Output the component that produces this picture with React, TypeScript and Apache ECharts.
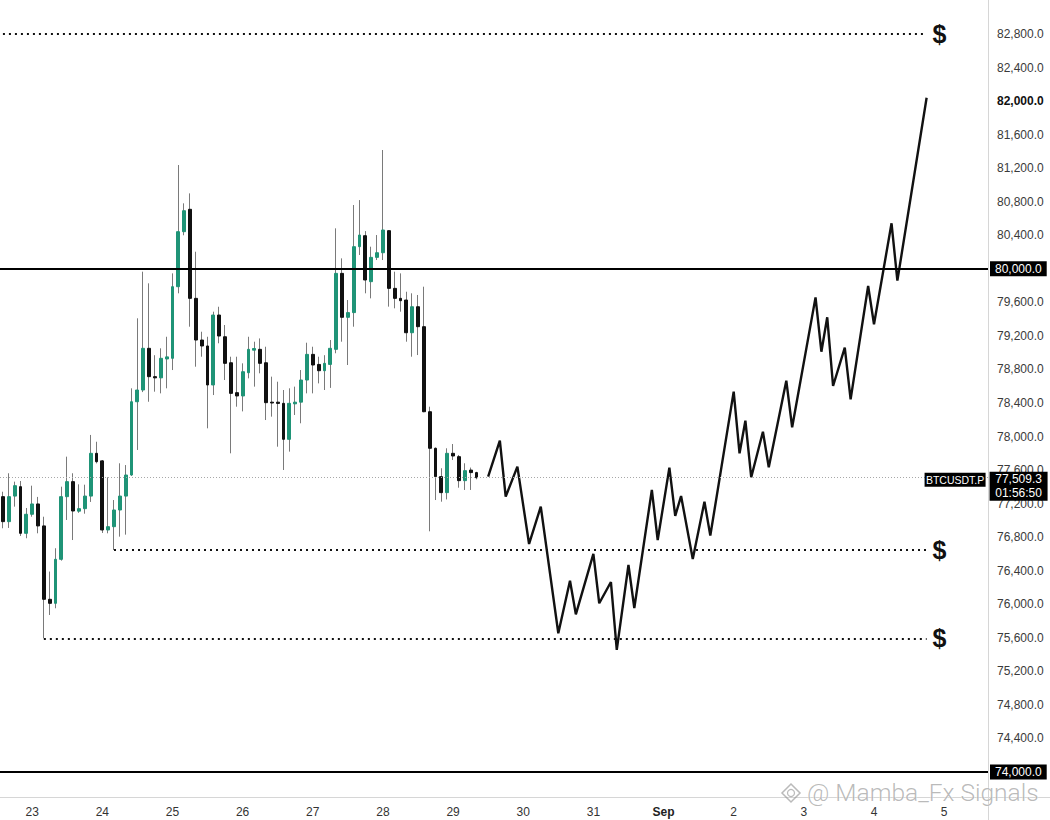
import React, { useEffect, useRef } from "react";
import * as echarts from "echarts";

// ---- time slots (2-hour candles) ----
const START_UTC = Date.UTC(2025, 7, 22, 14); // Aug 22 14:00
const SLOT_HOURS = 2;
const SLOT_COUNT = 169;

const categories: string[] = [];
for (let i = 0; i < SLOT_COUNT; i++) {
  const d = new Date(START_UTC + i * SLOT_HOURS * 3600000);
  const mm = String(d.getUTCMonth() + 1).padStart(2, "0");
  const dd = String(d.getUTCDate()).padStart(2, "0");
  const hh = String(d.getUTCHours()).padStart(2, "0");
  categories.push(`${mm}-${dd} ${hh}:00`);
}

// ---- BTCUSDT.P 2h candles (from Aug 22 14:00) ----
const candleOpen = [
  77283, 76985, 77290, 77402, 76846, 77073, 77196, 76934, 76059, 76011,
  76536, 77283, 77462, 77110, 77140, 77290, 77800, 77710, 76886, 76925,
  77124, 77290, 77541, 78415, 78555, 79052, 78714, 78700, 78925, 78933,
  79787, 80443, 80710, 79648, 79151, 79080, 78615, 79449, 79190, 78880,
  78523, 78484, 78761, 79030, 79040, 78880, 78410, 78410, 78396, 77967,
  78390, 78410, 78674, 78980, 78860, 78785, 78860, 79040, 79946, 79422,
  79478, 80264, 80395, 79847, 80137, 80192, 80455, 79767, 79648, 79628,
  79238, 79548, 79310, 78296, 77860, 77522, 77331, 77800, 77760, 77474,
  77600, 77570,
];
const candleClose = [
  76985, 77283, 77414, 76846, 77073, 77196, 76934, 76059, 76011, 76536,
  77283, 77462, 77112, 77140, 77290, 77800, 77700, 76886, 76925, 77124,
  77290, 77541, 78415, 78555, 79052, 78714, 78700, 78933, 78950, 79787,
  80443, 80693, 79648, 79151, 79080, 78615, 79449, 79199, 78873, 78515,
  78484, 78773, 79040, 79050, 78873, 78404, 78400, 78395, 77967, 78396,
  78410, 78674, 78980, 78853, 78785, 78873, 79052, 79946, 79422, 79478,
  80264, 80403, 79867, 80137, 80192, 80463, 79767, 79648, 79620, 79238,
  79548, 79310, 78296, 77860, 77522, 77331, 77800, 77768, 77474, 77593,
  77570, 77509.3,
];
const candleLow = [
  76906, 76910, 77164, 76814, 76787, 77044, 76846, 75594, 75872, 75952,
  76520, 77005, 76766, 77090, 77080, 77220, 77680, 76850, 76846, 76647,
  76806, 76830, 77530, 77840, 78530, 78415, 78535, 78515, 78575, 78793,
  79708, 80400, 79310, 78833, 78952, 78098, 78495, 79112, 78674, 77800,
  78356, 78300, 78694, 78595, 78754, 78197, 78237, 77879, 77601, 77820,
  78257, 78158, 78515, 78515, 78634, 78555, 78580, 78993, 79131, 78853,
  79310, 80165, 79708, 79648, 80105, 80105, 79549, 79529, 79489, 79131,
  78952, 78972, 78290, 76870, 77243, 77223, 77250, 77720, 77390, 77363,
  77363, 77490,
];
const candleHigh = [
  77342, 77562, 77462, 77470, 77148, 77414, 77280, 77044, 76390, 76668,
  77402, 77760, 77562, 77430, 77426, 78019, 77938, 77720, 77514, 77243,
  77681, 77660, 78575, 79410, 79966, 79827, 78970, 79052, 79190, 79946,
  81238, 80781, 80900, 80204, 79250, 79190, 79489, 79548, 79330, 78952,
  78952, 78873, 79190, 79131, 79170, 79071, 78714, 78654, 78555, 78575,
  78595, 78793, 79119, 79071, 78952, 78970, 79151, 80483, 80125, 79628,
  80761, 80820, 80450, 80264, 80403, 81417, 80460, 79966, 79946, 79727,
  79708, 79688, 79787, 78356, 77870, 77622, 77860, 77911, 77780, 77681,
  77630, 77580,
];

// ---- projected path ----
const projTimes = [
  "08-29 12:00", "08-29 16:00", "08-29 18:00", "08-29 22:00", "08-30 02:00",
  "08-30 06:00", "08-30 12:00", "08-30 16:00", "08-30 18:00", "08-31 00:00",
  "08-31 02:00", "08-31 06:00", "08-31 08:00", "08-31 12:00", "08-31 14:00",
  "08-31 20:00", "08-31 22:00", "09-01 02:00", "09-01 04:00", "09-01 06:00",
  "09-01 10:00", "09-01 14:00", "09-01 16:00", "09-02 00:00", "09-02 02:00",
  "09-02 04:00", "09-02 06:00", "09-02 10:00", "09-02 12:00", "09-02 18:00",
  "09-02 20:00", "09-03 04:00", "09-03 06:00", "09-03 08:00", "09-03 10:00",
  "09-03 14:00", "09-03 16:00", "09-03 22:00", "09-04 00:00", "09-04 06:00",
  "09-04 08:00", "09-04 18:00",
];
const projValues = [
  77522, 77950, 77283, 77641, 76719,
  77164, 75654, 76281, 75880, 76600,
  76012, 76265, 75455, 76468, 75955,
  77363, 76766, 77629, 77053, 77291,
  76540, 77223, 76818, 78535, 77800,
  78189, 77514, 78058, 77633, 78666,
  78110, 79660, 79012, 79422, 78603,
  79060, 78444, 79795, 79339, 80543,
  79859, 82040,
];

// ---- levels ----
const keyLevels = [80000, 74000];
const liquidityLevels = [82800, 76650, 75594];
const liquidityStarts = ["08-22 14:00", "08-24 04:00", "08-23 04:00"];
const liquidityEnd = "09-04 18:00";
const currentPrice = 77509.3;
const countdown = "01:56:50";
const symbolName = "BTCUSDT.P";

const Y_MIN = 73600;
const Y_MAX = 83200;
const Y_STEP = 400;

const GREEN = "#1f9477";
const BLACK = "#111111";
const WICK = "#7a7a7a";
const FONT = "Liberation Sans, Arial, sans-serif";

const fmt = (v: number) =>
  v.toLocaleString("en-US", { minimumFractionDigits: 1, maximumFractionDigits: 1 });

export default function App() {
  const ref = useRef<HTMLDivElement>(null);

  useEffect(() => {
    if (!ref.current) return;
    const chart = echarts.init(ref.current, undefined, { renderer: "svg" });

    const wickData = candleOpen.map((o, i) => [o, candleClose[i], candleLow[i], candleHigh[i]]);
    const bodyData = candleOpen.map((o, i) => {
      const c = candleClose[i];
      return [o, c, Math.min(o, c), Math.max(o, c)];
    });
    const projData = projTimes.map((t, i) => [t, projValues[i]]);
    const lastCat = categories[categories.length - 1];

    const boxLabel = (text: string) => ({
      show: true,
      position: "end",
      distance: 2,
      formatter: text,
      color: "#fff",
      backgroundColor: "#000",
      fontFamily: FONT,
      fontSize: 12,
      lineHeight: 13,
      padding: [1, 5, 1, 5],
    });

    const markLineData: any[] = [];
    keyLevels.forEach((lv) => {
      markLineData.push({
        yAxis: lv,
        lineStyle: { color: "#000", width: 2, type: "solid" },
        label: boxLabel(fmt(lv)),
      });
    });
    liquidityLevels.forEach((lv, i) => {
      markLineData.push([
        {
          coord: [liquidityStarts[i], lv],
          lineStyle: { color: "#111", width: 2, type: [2, 4] },
          label: {
            show: true,
            position: "end",
            distance: 6,
            formatter: "$",
            color: "#111",
            fontFamily: FONT,
            fontWeight: "bold",
            fontSize: 25,
          },
        },
        { coord: [liquidityEnd, lv] },
      ]);
    });
    markLineData.push({
      yAxis: currentPrice,
      lineStyle: { color: "#a8a8a8", width: 1, type: [1, 2] },
      label: { show: false },
    });

    const option: any = {
      animation: false,
      backgroundColor: "#ffffff",
      grid: { left: 0, right: 62, top: 0.5, bottom: 14.5, containLabel: false },
      xAxis: {
        type: "category",
        data: categories,
        boundaryGap: true,
        axisLine: { show: false },
        axisTick: { show: false },
        splitLine: { show: false },
        axisLabel: {
          margin: 0,
          color: "#333",
          fontFamily: FONT,
          fontSize: 12,
          interval: (_i: number, v: string) => v.slice(6) === "00:00",
          formatter: (v: string) => {
            const day = Number(v.slice(3, 5));
            if (day === 1) return "{m|Sep}";
            return String(day);
          },
          rich: { m: { fontWeight: "bold", color: "#222", fontSize: 12, fontFamily: FONT } },
        },
      },
      yAxis: {
        type: "value",
        position: "right",
        min: Y_MIN,
        max: Y_MAX,
        interval: Y_STEP,
        scale: true,
        axisLine: { show: false },
        axisTick: { show: false },
        splitLine: { show: false },
        axisLabel: {
          margin: 9,
          color: "#3a3a3a",
          fontFamily: FONT,
          fontSize: 12,
          showMinLabel: false,
          showMaxLabel: false,
          formatter: (v: number) => {
            if (v < 74000 || v > 82800 || keyLevels.includes(v)) return "";
            return v === 82000 ? `{b|${fmt(v)}}` : fmt(v);
          },
          rich: { b: { fontWeight: "bold", color: "#111", fontSize: 12, fontFamily: FONT } },
        },
      },
      series: [
        {
          type: "candlestick",
          name: "wick",
          data: wickData,
          barWidth: 0,
          silent: true,
          itemStyle: {
            color: WICK,
            color0: WICK,
            borderColor: WICK,
            borderColor0: WICK,
            borderColorDoji: WICK,
            borderWidth: 1,
          },
          z: 2,
        },
        {
          type: "candlestick",
          name: "body",
          data: bodyData,
          barWidth: 3.4,
          silent: true,
          itemStyle: {
            color: GREEN,
            color0: BLACK,
            borderColor: GREEN,
            borderColor0: BLACK,
            borderColorDoji: BLACK,
            borderWidth: 1,
          },
          z: 3,
        },
        {
          type: "line",
          name: "projection",
          data: projData,
          symbol: "none",
          lineStyle: { color: "#111", width: 2.4 },
          z: 4,
          silent: true,
          markLine: {
            silent: true,
            symbol: ["none", "none"],
            animation: false,
            data: markLineData,
          },
          markPoint: {
            silent: true,
            animation: false,
            data: [
              {
                coord: [lastCat, currentPrice],
                symbol: "rect",
                symbolSize: [61, 14],
                symbolOffset: [-30, 2],
                itemStyle: { color: "#000" },
                label: {
                  show: true,
                  position: "inside",
                  formatter: symbolName,
                  color: "#fff",
                  fontFamily: FONT,
                  fontSize: 10.5,
                },
              },
              {
                coord: [lastCat, currentPrice],
                symbol: "rect",
                symbolSize: [58, 29],
                symbolOffset: [33.5, 8.5],
                itemStyle: { color: "#000" },
                label: {
                  show: true,
                  position: "inside",
                  formatter: `{a|${fmt(currentPrice)}}\n{a|${countdown}}`,
                  rich: {
                    a: { color: "#fff", fontFamily: FONT, fontSize: 12, lineHeight: 14 },
                  },
                },
              },
            ],
          },
        },
      ],
      graphic: [
        {
          type: "line",
          shape: { x1: 988.5, y1: 0, x2: 988.5, y2: 820 },
          style: { stroke: "#d6d6d6", lineWidth: 1 },
          silent: true,
          z: -1,
        },
        {
          type: "line",
          shape: { x1: 0, y1: 797.5, x2: 1050, y2: 797.5 },
          style: { stroke: "#d6d6d6", lineWidth: 1 },
          silent: true,
          z: -1,
        },
        {
          type: "group",
          silent: true,
          z: 100,
          children: [
            {
              type: "polygon",
              shape: { points: [[791, 784], [800, 793], [791, 802], [782, 793]] },
              style: { fill: "none", stroke: "rgba(140,140,140,0.6)", lineWidth: 1.5 },
            },
            {
              type: "circle",
              shape: { cx: 791, cy: 793, r: 3.5 },
              style: { fill: "none", stroke: "rgba(140,140,140,0.6)", lineWidth: 1.2 },
            },
            {
              type: "text",
              x: 807,
              y: 792.5,
              style: {
                text: "@ Mamba_Fx Signals",
                fontFamily: "Roboto, sans-serif",
                fontWeight: 300,
                fontSize: 24.5,
                fill: "rgba(140,140,140,0.6)",
                stroke: "rgba(255,255,255,0.7)",
                lineWidth: 1,
                verticalAlign: "middle",
                align: "left",
              },
            },
          ],
        },
      ],
    };

    chart.setOption(option);
    return () => chart.dispose();
  }, []);

  return (
    <div
      ref={ref}
      style={{ position: "fixed", left: 0, top: 0, width: 1050, height: 820, background: "#fff" }}
    />
  );
}
